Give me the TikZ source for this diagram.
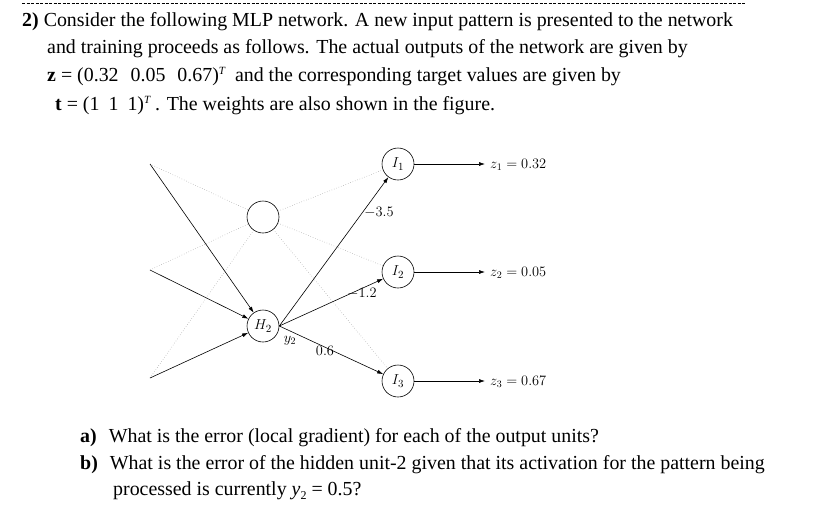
\documentclass[tikz,border=0pt]{standalone}
\usepackage{fontspec}
\newfontfamily\tms{Liberation Serif}
\usetikzlibrary{arrows.meta}
\begin{document}
\begin{tikzpicture}[x=1pt,y=-1pt,
  neuron/.style={circle,draw,line width=0.6pt,minimum size=32pt,inner sep=0pt,font=\fontsize{15}{15}\selectfont},
  body/.style={anchor=base west,inner sep=0pt,font=\tms\fontsize{19.9}{21}\selectfont},
  lbl/.style={inner sep=1pt,font=\fontsize{14.5}{14.5}\selectfont},
  conn/.style={line width=0.6pt,-{Latex[length=6pt,width=4pt]}},
  dot/.style={dotted,line width=0.5pt,gray!80}]
\useasboundingbox (0,0) rectangle (828,517);
\draw[line width=0.8pt,dash pattern=on 3pt off 1.5pt] (22,3) -- (746,3);
\node[body] (l1) at (22,26) {\textbf{2)} Consider the following MLP network. A new input pattern is presented to the network};
\node[body] (l2) at (47,53) {and training proceeds as follows. The actual outputs of the network are given by};
\node[body] (l3) at (47,81) {\textbf{z} = (0.32\hspace{12pt}0.05\hspace{12pt}0.67)\raisebox{7pt}{\fontsize{11}{11}\selectfont\itshape T}\hspace{5pt} and the corresponding target values are given by};
\node[body] (l4) at (55,110) {\textbf{t} = (1\hspace{9pt}1\hspace{9pt}1)\raisebox{7pt}{\fontsize{11}{11}\selectfont\itshape T} . The weights are also shown in the figure.};
\node[body] (qa) at (80,442) {\textbf{a)}\hspace{12pt}What is the error (local gradient) for each of the output units?};
\node[body] (qb) at (80,469) {\textbf{b)}\hspace{12pt}What is the error of the hidden unit-2 given that its activation for the pattern being};
\node[body] (qc) at (113,495) {processed is currently \textit{y}\raisebox{-4pt}{\fontsize{12}{12}\selectfont 2} = 0.5?};
\coordinate (x1) at (150,164);
\coordinate (x2) at (150,270);
\coordinate (x3) at (150,378);
\node[neuron] (h1) at (263,217) {};
\node[neuron] (h2) at (263,326) {$H_2$};
\node[neuron] (o1) at (398,164) {$I_1$};
\node[neuron] (o2) at (398,272) {$I_2$};
\node[neuron] (o3) at (398,381) {$I_3$};
\foreach \i in {x1,x2,x3} \draw[dot] (\i) -- (h1);
\foreach \o in {o1,o2,o3} \draw[dot] (h1) -- (\o);
\foreach \i in {x1,x2,x3} \draw[conn] (\i) -- (h2);
\draw[conn] (h2.east) -- (o1);
\draw[conn] (h2.east) -- (o2);
\draw[conn] (h2.east) -- (o3);
\node[lbl] (w1) at (379,212) {$-3.5$};
\node[lbl] (w2) at (362,293) {$-1.2$};
\node[lbl] (w3) at (325,351) {$0.6$};
\node[lbl] (y2) at (290,341) {$y_2$};
\coordinate (e1) at (485,164);
\coordinate (e2) at (485,272);
\coordinate (e3) at (485,381);
\draw[conn] (o1) -- (e1); \node[lbl,anchor=west] (z1) at (489,165) {$z_1=0.32$};
\draw[conn] (o2) -- (e2); \node[lbl,anchor=west] (z2) at (489,273) {$z_2=0.05$};
\draw[conn] (o3) -- (e3); \node[lbl,anchor=west] (z3) at (489,382) {$z_3=0.67$};
\end{tikzpicture}
\end{document}
